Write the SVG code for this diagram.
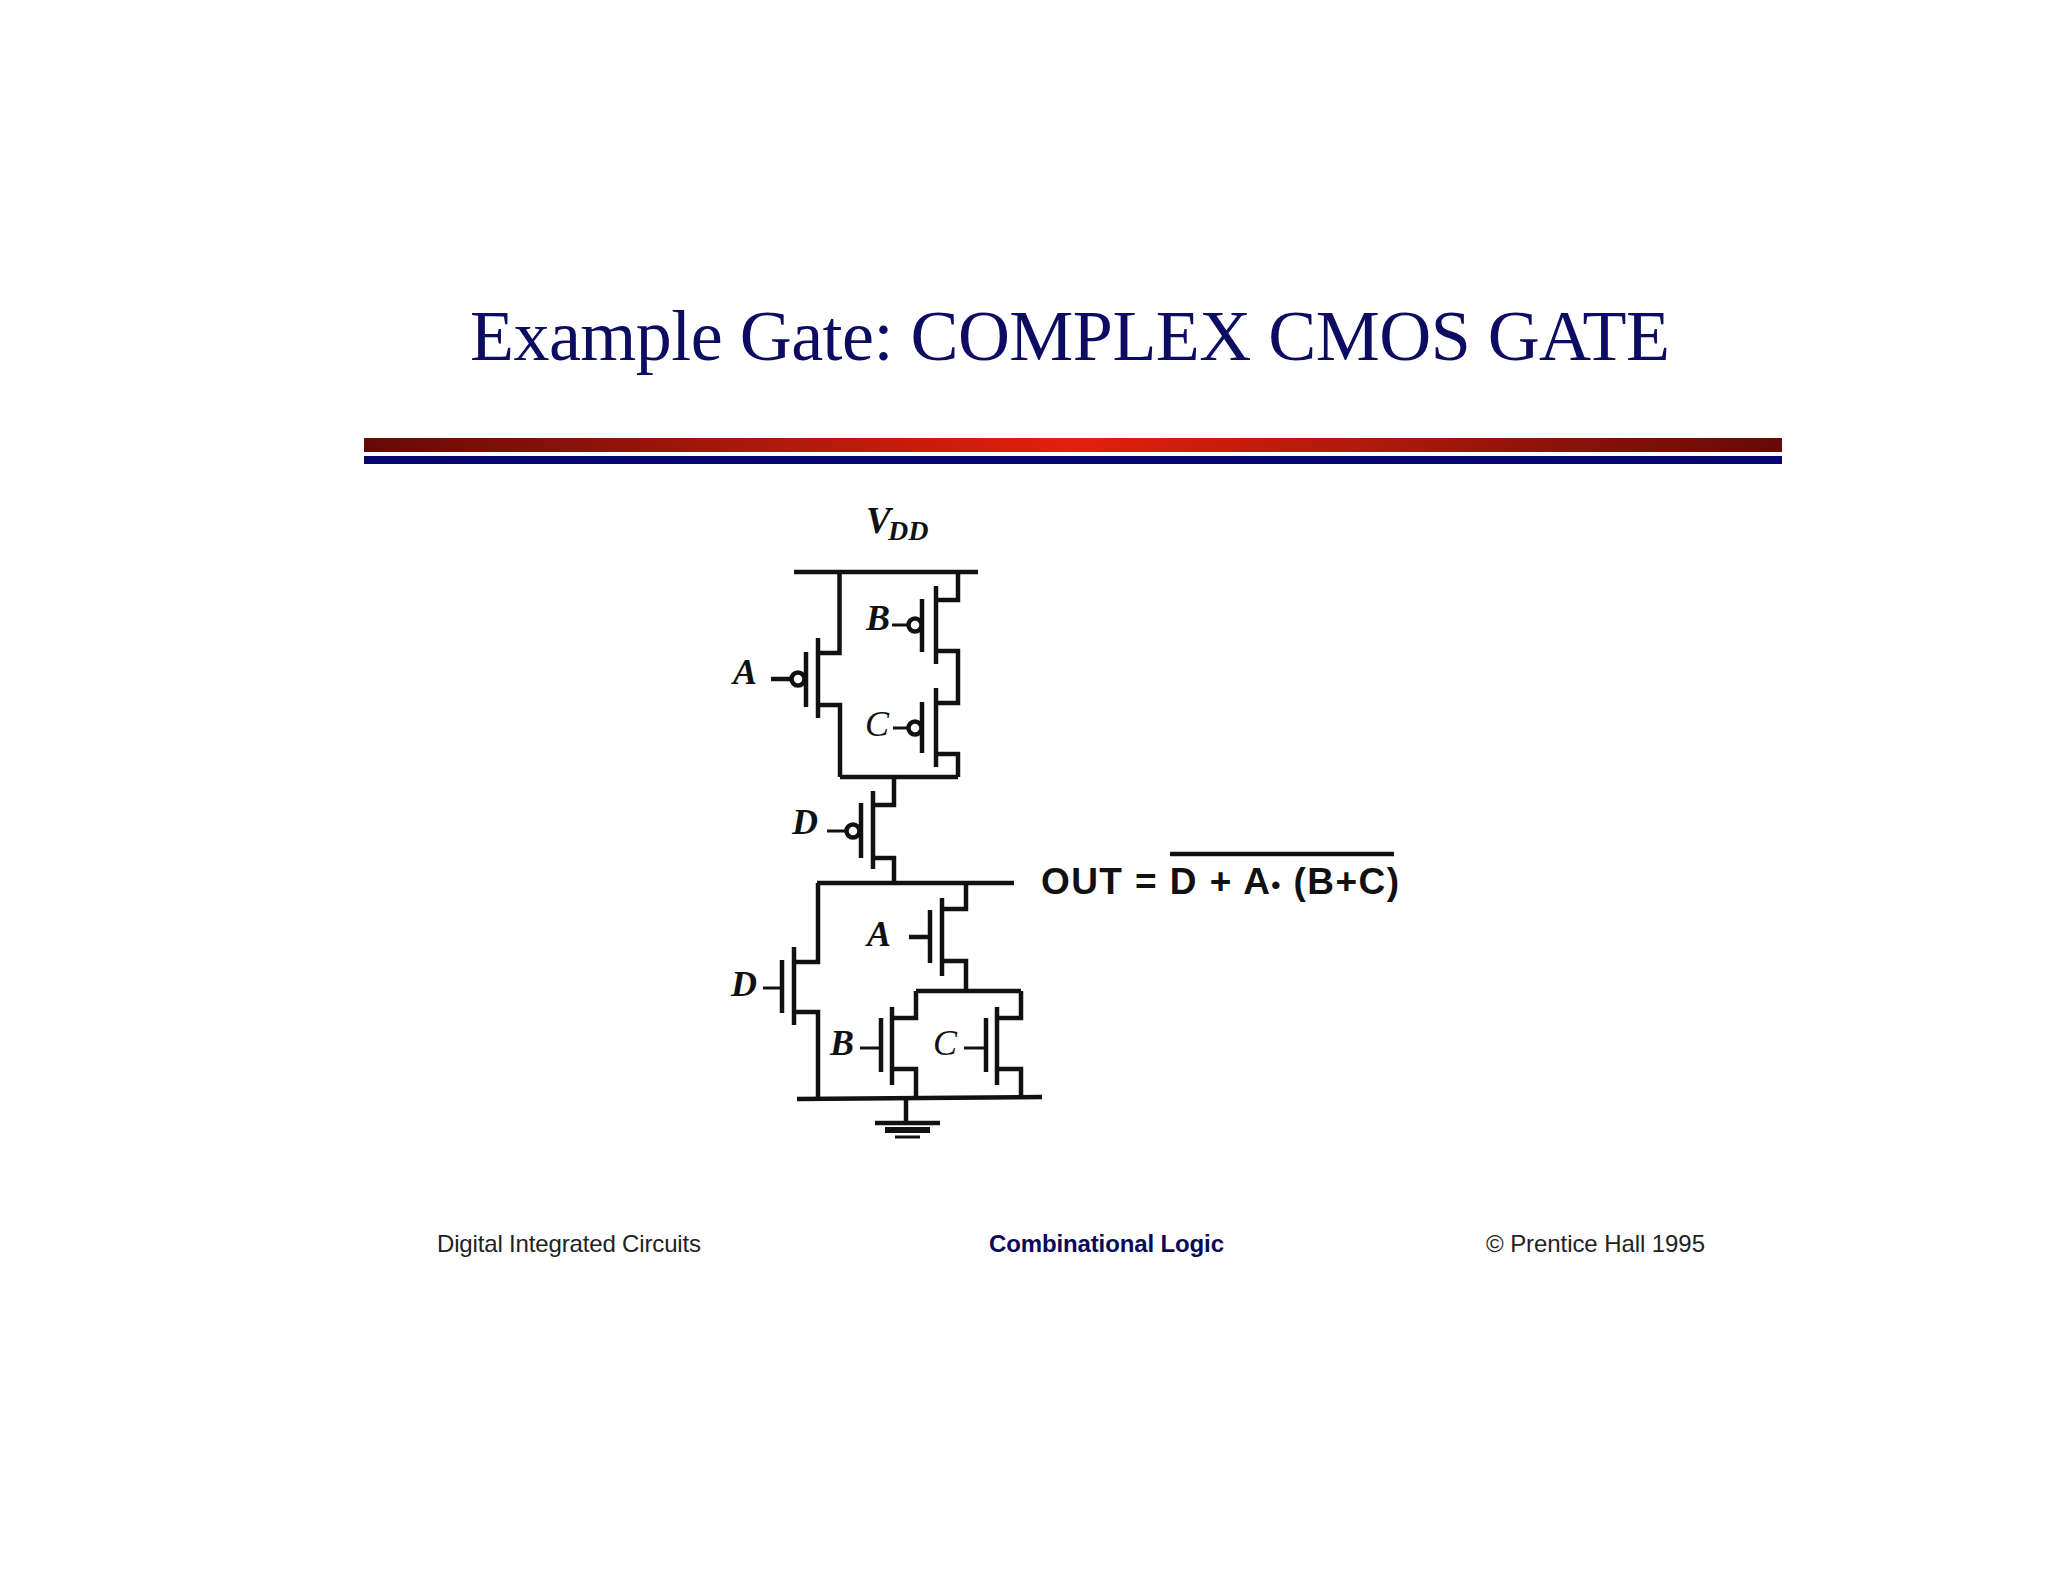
<svg xmlns="http://www.w3.org/2000/svg" width="2048" height="1582" viewBox="0 0 2048 1582">
<style>
.w{fill:none;stroke:#111;stroke-width:4.500}
.l{fill:none;stroke:#111;stroke-width:3}
.b{fill:#fff;stroke:#111;stroke-width:4.500}
.n{font-family:"Liberation Serif",serif;font-style:italic;font-size:36px;fill:#111}
.nb{font-weight:bold}
.f{font-family:"Liberation Sans",sans-serif;font-size:24px;fill:#222}
</style>
<defs>
<linearGradient id="red" x1="0" x2="1" y1="0" y2="0">
<stop offset="0" stop-color="#650a06"/><stop offset="0.3" stop-color="#b01a0c"/><stop offset="0.5" stop-color="#e2200c"/><stop offset="0.7" stop-color="#b01a0c"/><stop offset="1" stop-color="#650a06"/>
</linearGradient>
</defs>
<rect width="2048" height="1582" fill="#fff"/>
<g id="title">
<text x="470" y="360" font-family="'Liberation Serif',serif" font-size="72" fill="#0c0c62" textLength="1200" lengthAdjust="spacing">Example Gate: COMPLEX CMOS GATE</text>
<rect x="364" y="438" width="1418" height="14" fill="url(#red)"/>
<rect x="364" y="456" width="1418" height="8" fill="#06066e"/>
</g>
<g id="connectors">
<path class="w" d="M794 572H978"/>
<path class="w" d="M839.500 572V653H818"/>
<path class="w" d="M818 705H840V777"/>
<path class="w" d="M840 777H958"/>
<path class="w" d="M958 572V600H936"/>
<path class="w" d="M936 651H958V703H936"/>
<path class="w" d="M936 754H958V777"/>
<path class="w" d="M894 777V805H873"/>
<path class="w" d="M873 858H894V883"/>
<path class="w" d="M817 883H1014"/>
<path class="w" d="M818 883V962H794"/>
<path class="w" d="M794 1012H818V1098"/>
<path class="w" d="M966 883V909H942"/>
<path class="w" d="M942 961H966V991"/>
<path class="w" d="M916 991H1021"/>
<path class="w" d="M916 991V1018H892"/>
<path class="w" d="M892 1069H916V1098"/>
<path class="w" d="M1021 991V1018H997"/>
<path class="w" d="M997 1069H1021V1097"/>
<path class="w" d="M797 1099L1042 1097"/>
<path class="w" d="M906 1098V1123"/>
</g>
<g id="vdd"><text class="n nb" x="866" y="533" style="font-size:37px">V</text><text class="n nb" x="888" y="540" style="font-size:28px">DD</text></g>
<g id="pmos-a">
<path class="w" d="M818 638V718M806 652V707"/><path class="w" d="M771 679H791"/><circle class="b" cx="798" cy="679" r="6.500"/>
<text class="n" x="733" y="684" font-weight="bold">A</text>
</g>
<g id="pmos-b">
<path class="w" d="M936 586V664M922 599V652"/><path class="l" d="M892 625H908"/><circle class="b" cx="915" cy="625" r="6.500"/>
<text class="n nb" x="866" y="630">B</text>
</g>
<g id="pmos-c">
<path class="w" d="M936 688V767M922 702V753"/><path class="l" d="M893 728H908"/><circle class="b" cx="915" cy="728" r="6.500"/>
<text class="n" x="865" y="736">C</text>
</g>
<g id="pmos-d">
<path class="w" d="M873 791V869M861 803V858"/><path class="l" d="M827 831H846"/><circle class="b" cx="853" cy="831" r="6.500"/>
<text class="n nb" x="792" y="834">D</text>
</g>
<g id="nmos-d">
<path class="w" d="M794 947V1025M782 960V1013"/><path class="l" d="M763 988H782"/>
<text class="n nb" x="731" y="996">D</text>
</g>
<g id="nmos-a">
<path class="w" d="M942 898V976M930 910V963"/><path class="w" d="M909 937H930"/>
<text class="n" x="867" y="946" font-weight="bold">A</text>
</g>
<g id="nmos-b">
<path class="w" d="M892 1007V1085M881 1018V1072"/><path class="l" d="M860 1048H881"/>
<text class="n nb" x="830" y="1055">B</text>
</g>
<g id="nmos-c">
<path class="w" d="M997 1007V1085M986 1018V1072"/><path class="l" d="M964 1048H986"/>
<text class="n" x="933" y="1055">C</text>
</g>
<g id="ground">
<path class="w" d="M875 1123H940"/><path d="M885 1130H930" fill="none" stroke="#111" stroke-width="6"/><path class="l" d="M895 1137H920"/>
</g>
<g id="out">
<text x="1041" y="894" font-family="'Liberation Sans',sans-serif" font-weight="bold" font-size="37" fill="#111" textLength="358" lengthAdjust="spacing">OUT = D + A<tspan font-size="26">•</tspan> (B+C)</text>
<path class="w" d="M1170 854H1394"/>
</g>
<g id="footer">
<text class="f" x="437" y="1252" textLength="264">Digital Integrated Circuits</text>
<text class="f" x="989" y="1252" textLength="235" font-weight="bold" style="fill:#0a0a5a">Combinational Logic</text>
<text class="f" x="1486" y="1252" textLength="219">© Prentice Hall 1995</text>
</g>
</svg>
